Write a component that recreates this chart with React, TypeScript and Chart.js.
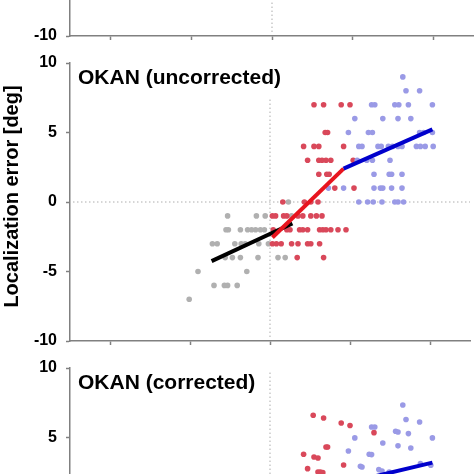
import React, { useEffect, useRef } from 'react';
import { Chart, registerables } from 'chart.js';

Chart.register(...registerables);

type Pt = [number, number];

// axis ticks
const xTicks = [-20, -10, 0, 10, 20];
const yTicks = [-10, -5, 0, 5, 10];

// titles
const yAxisTitle = 'Localization error [deg]';
const titleUncorrected = 'OKAN (uncorrected)';
const titleCorrected = 'OKAN (corrected)';

// OKAN uncorrected: scatter points [x, y]
const uncGray: Pt[] = [
  [2.3, 0],
  [-5.3, -1], [-1.7, -1], [-0.6, -1], [2.7, -1],
  [-5.5, -2], [-5.2, -2], [-3.7, -2], [-2.8, -2], [-2.3, -2], [-1.8, -2], [-1.2, -2], [-0.7, -2],
  [-7.2, -3], [-6.6, -3], [-4.4, -3], [-3.6, -3], [-3.1, -3], [-1.4, -3], [-0.2, -3],
  [-5.6, -4], [-4.7, -4], [-3.7, -4], [-1.5, -4], [1.0, -4], [1.9, -4],
  [-9.0, -5], [-2.9, -5],
  [-7.0, -6], [-5.7, -6], [-5.3, -6], [-4.1, -6],
  [-10.1, -7],
];
const uncRed: Pt[] = [
  [5.5, 7], [6.7, 7], [8.9, 7], [10.0, 7],
  [6.9, 5], [7.2, 5],
  [4.2, 4], [5.5, 4], [6.1, 4], [9.2, 4],
  [4.7, 3], [6.1, 3], [6.5, 3], [7.0, 3], [7.6, 3], [10.4, 3],
  [6.1, 2], [7.1, 2], [7.4, 2],
  [8.1, 1], [10.5, 1],
  [1.6, 0], [4.3, 0], [5.1, 0], [6.0, 0],
  [0.3, -1], [0.7, -1], [1.7, -1], [2.1, -1], [3.5, -1], [4.1, -1], [5.1, -1], [5.8, -1], [6.5, -1],
  [0.4, -2], [2.1, -2], [2.5, -2], [3.7, -2], [4.1, -2], [4.7, -2], [6.2, -2], [6.6, -2], [7.0, -2], [7.6, -2], [8.5, -2], [9.5, -2],
  [0.3, -3], [0.8, -3], [1.4, -3], [2.7, -3], [3.5, -3], [4.7, -3], [5.1, -3], [6.2, -3],
  [3.4, -4], [6.7, -4],
];
const uncBlue: Pt[] = [
  [16.6, 9],
  [17.0, 8], [18.7, 8],
  [12.7, 7], [13.1, 7], [15.6, 7], [16.1, 7], [17.3, 7], [20.3, 7],
  [10.6, 6], [14.1, 6], [16.0, 6], [17.6, 6],
  [9.8, 5], [12.3, 5], [12.8, 5], [18.7, 5], [19.2, 5], [20.3, 5],
  [11.1, 4], [11.5, 4], [13.5, 4], [13.9, 4], [14.8, 4], [15.3, 4], [16.0, 4], [16.5, 4], [18.3, 4], [18.8, 4], [19.4, 4], [20.4, 4],
  [10.9, 3], [12.1, 3], [12.8, 3], [15.0, 3],
  [13.0, 2], [14.9, 2], [15.2, 2], [16.5, 2],
  [7.3, 1], [9.2, 1], [13.0, 1], [13.8, 1], [14.1, 1], [15.2, 1], [16.5, 1],
  [11.1, 0], [12.2, 0], [12.9, 0], [14.0, 0], [15.6, 0], [16.0, 0], [16.7, 0],
];
const uncBlackFit: Pt[] = [[-7.3, -4.25], [2.8, -1.55]];
const uncRedFit: Pt[] = [[0.3, -2.55], [9.2, 2.4]];
const uncBlueFit: Pt[] = [[9.2, 2.4], [20.3, 5.23]];

// OKAN corrected: scatter points [x, y]
const corRed: Pt[] = [
  [5.4, 6.6], [6.7, 6.4], [8.9, 6.04], [10.0, 5.86], [13.0, 5.35],
  [7.0, 4.32], [7.2, 4.32], [4.2, 3.79], [5.5, 3.6], [6.0, 3.53],
  [9.2, 3.02], [4.7, 2.76], [6.0, 2.52], [6.3, 2.52], [6.6, 2.47],
];
const corBlue: Pt[] = [
  [16.6, 7.34], [17.0, 6.29], [18.7, 6.12], [12.7, 5.76], [13.1, 5.76],
  [15.7, 5.45], [16.0, 5.4], [17.3, 5.28], [10.6, 4.97], [20.3, 4.97],
  [14.1, 4.6], [16.0, 4.4], [17.6, 4.25], [9.8, 4.03], [12.4, 3.79],
  [12.7, 3.77], [11.3, 2.93], [11.5, 2.88], [18.8, 3.12], [20.1, 3.0],
  [13.6, 2.69], [14.0, 2.59], [14.9, 2.52],
];
const corBlueFit: Pt[] = [[9.2, 1.67], [20.3, 3.19]];

// dotted reference lines
const topVertical: Pt[] = [[0, -9.7], [0, 10]];
const midVertical: Pt[] = [[0, -9.7], [0, 7.5]];
const midHorizontal: Pt[] = [[-24.6, 0], [25, 0]];
const botVertical: Pt[] = [[0, -9.7], [0, 9.7]];

const FONT = '"Liberation Sans", Arial, Helvetica, sans-serif';
const AXIS_GRAY = '#808080';
const GRAY_PT = '#b0b0b0';
const RED_PT = '#d9485a';
const BLUE_PT = '#9a9ae6';

const toXY = (p: Pt[]) => p.map(([x, y]) => ({ x, y }));

const pts = (data: Pt[], color: string, order: number) => ({
  data: toXY(data),
  backgroundColor: color,
  borderWidth: 0,
  pointRadius: 2.8,
  showLine: false,
  order,
});
const fit = (data: Pt[], color: string, order: number) => ({
  data: toXY(data),
  borderColor: color,
  borderWidth: 4,
  pointRadius: 0,
  showLine: true,
  order,
});
const dotted = (data: Pt[]) => ({
  data: toXY(data),
  borderColor: '#9a9a9a',
  borderWidth: 1,
  borderDash: [1.2, 2.8],
  pointRadius: 0,
  showLine: true,
  order: 100,
});

const PANEL_H = 305;
const AREA_TOP = 22;
const AREA_BOTTOM = 300;

function Panel(props: { top: number; title?: string; yTitle?: string; datasets: any[] }) {
  const ref = useRef<HTMLCanvasElement | null>(null);
  useEffect(() => {
    if (!ref.current) return;
    const { title, yTitle, top } = props;
    const textPlugin = {
      id: 'panelText',
      afterDraw(chart: any) {
        const ctx = chart.ctx;
        const area = chart.chartArea;
        ctx.save();
        ctx.fillStyle = '#000';
        if (title) {
          ctx.font = `bold 21px ${FONT}`;
          ctx.textAlign = 'left';
          ctx.textBaseline = 'alphabetic';
          ctx.fillText(title, area.left + 8, area.top + 21);
        }
        if (yTitle) {
          ctx.font = `bold 20px ${FONT}`;
          ctx.translate(17.5, 196.5 - top);
          ctx.rotate(-Math.PI / 2);
          ctx.textAlign = 'center';
          ctx.textBaseline = 'alphabetic';
          ctx.fillText(yTitle, 0, 0);
        }
        ctx.restore();
      },
    };
    const chart = new Chart(ref.current, {
      type: 'scatter',
      data: { datasets: props.datasets },
      plugins: [textPlugin],
      options: {
        animation: false,
        responsive: false,
        maintainAspectRatio: false,
        devicePixelRatio: 1,
        layout: { padding: { top: AREA_TOP, left: 0, right: 0, bottom: 0 } },
        plugins: {
          legend: { display: false },
          tooltip: { enabled: false },
          title: { display: false },
        },
        scales: {
          x: {
            type: 'linear',
            min: -25,
            max: 25,
            afterBuildTicks: (s: any) => {
              s.ticks = xTicks.map((v) => ({ value: v }));
            },
            afterFit: (s: any) => {
              s.height = PANEL_H - AREA_BOTTOM;
              s.paddingLeft = 0;
              s.paddingRight = 0;
              s.paddingTop = 0;
              s.paddingBottom = 0;
            },
            ticks: { display: false },
            grid: {
              drawOnChartArea: false,
              drawTicks: true,
              tickLength: 4,
              tickColor: AXIS_GRAY,
              tickWidth: 1.5,
            },
            border: { display: true, color: AXIS_GRAY, width: 1.5 },
          },
          y: {
            type: 'linear',
            min: -10,
            max: 10,
            afterBuildTicks: (s: any) => {
              s.ticks = yTicks.map((v) => ({ value: v }));
            },
            afterFit: (s: any) => {
              s.width = 70;
              s.paddingTop = 0;
              s.paddingBottom = 0;
              s.paddingLeft = 0;
              s.paddingRight = 0;
            },
            ticks: {
              color: '#000',
              padding: 9,
              font: { family: FONT, size: 16, weight: 'bold' },
            },
            grid: {
              drawOnChartArea: false,
              drawTicks: true,
              tickLength: 4,
              tickColor: AXIS_GRAY,
              tickWidth: 1.5,
            },
            border: { display: true, color: AXIS_GRAY, width: 1.5 },
          },
        },
      } as any,
    });
    return () => chart.destroy();
  }, []);
  return (
    <canvas
      ref={ref}
      width={474}
      height={PANEL_H}
      style={{ position: 'absolute', left: 0, top: props.top, width: 474, height: PANEL_H, display: 'block' }}
    />
  );
}

export default function App() {
  const topSets = [dotted(topVertical)];
  const midSets = [
    fit(uncBlueFit, '#0000cc', 1),
    fit(uncRedFit, '#e8141e', 2),
    fit(uncBlackFit, '#000000', 3),
    pts(uncBlue, BLUE_PT, 10),
    pts(uncRed, RED_PT, 11),
    pts(uncGray, GRAY_PT, 12),
    dotted(midVertical),
    dotted(midHorizontal),
  ];
  const botSets = [
    fit(corBlueFit, '#0000cc', 1),
    pts(corBlue, BLUE_PT, 10),
    pts(corRed, RED_PT, 11),
    dotted(botVertical),
  ];
  return (
    <div
      style={{
        position: 'fixed',
        left: 0,
        top: 0,
        width: 474,
        height: 474,
        overflow: 'hidden',
        background: '#fff',
      }}
    >
      <Panel top={41 - PANEL_H} datasets={topSets} />
      <Panel top={41} title={titleUncorrected} yTitle={yAxisTitle} datasets={midSets} />
      <Panel top={41 + PANEL_H} title={titleCorrected} datasets={botSets} />
    </div>
  );
}
